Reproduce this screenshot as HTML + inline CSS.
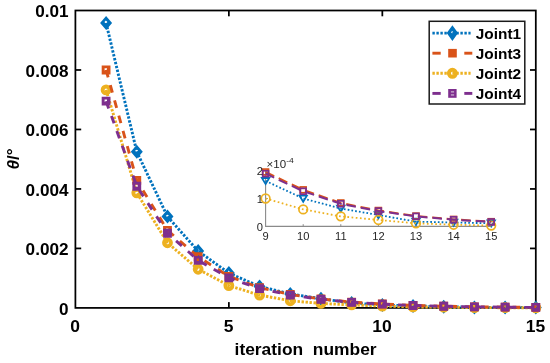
<!DOCTYPE html>
<html><head><meta charset="utf-8"><style>
html,body{margin:0;padding:0;background:#fff;}
body{width:550px;height:363px;overflow:hidden;}
svg{display:block;}
text{font-family:"Liberation Sans",Arial,Helvetica,sans-serif;}
</style></head><body>
<svg width="550" height="363" viewBox="0 0 550 363">
<rect width="550" height="363" fill="#fff"/>
<rect x="75.4" y="10.5" width="460.4" height="297.4" fill="none" stroke="#000" stroke-width="1.75"/>
<line x1="228.87" y1="307.9" x2="228.87" y2="302.1" stroke="#000" stroke-width="1.75"/>
<line x1="228.87" y1="10.5" x2="228.87" y2="16.3" stroke="#000" stroke-width="1.75"/>
<line x1="382.33" y1="307.9" x2="382.33" y2="302.1" stroke="#000" stroke-width="1.75"/>
<line x1="382.33" y1="10.5" x2="382.33" y2="16.3" stroke="#000" stroke-width="1.75"/>
<line x1="75.4" y1="248.42" x2="81.2" y2="248.42" stroke="#000" stroke-width="1.75"/>
<line x1="535.8" y1="248.42" x2="530" y2="248.42" stroke="#000" stroke-width="1.75"/>
<line x1="75.4" y1="188.94" x2="81.2" y2="188.94" stroke="#000" stroke-width="1.75"/>
<line x1="535.8" y1="188.94" x2="530" y2="188.94" stroke="#000" stroke-width="1.75"/>
<line x1="75.4" y1="129.46" x2="81.2" y2="129.46" stroke="#000" stroke-width="1.75"/>
<line x1="535.8" y1="129.46" x2="530" y2="129.46" stroke="#000" stroke-width="1.75"/>
<line x1="75.4" y1="69.98" x2="81.2" y2="69.98" stroke="#000" stroke-width="1.75"/>
<line x1="535.8" y1="69.98" x2="530" y2="69.98" stroke="#000" stroke-width="1.75"/>
<polyline points="106.09,22.99 136.79,151.76 167.48,216.6 198.17,251.1 228.87,273.1 259.56,286.49 290.25,293.92 320.95,298.68 351.64,303.05 382.33,304.93 413.03,306 443.72,306.68 474.41,307.39 505.11,307.48 535.8,307.57" fill="none" stroke="#0072BD" stroke-width="2.9" stroke-dasharray="2.4 1.6"/>
<path d="M106.09,15.99 L112.09,22.99 L106.09,29.99 L100.09,22.99 Z M104.39,22.09 L105.89,23.74 L107.39,22.09 L105.89,20.44 Z" fill="#0072BD" fill-rule="evenodd"/>
<path d="M136.79,144.76 L142.79,151.76 L136.79,158.76 L130.79,151.76 Z M135.09,150.86 L136.59,152.51 L138.09,150.86 L136.59,149.21 Z" fill="#0072BD" fill-rule="evenodd"/>
<path d="M167.48,209.6 L173.48,216.6 L167.48,223.6 L161.48,216.6 Z M165.78,215.7 L167.28,217.35 L168.78,215.7 L167.28,214.05 Z" fill="#0072BD" fill-rule="evenodd"/>
<path d="M198.17,244.1 L204.17,251.1 L198.17,258.1 L192.17,251.1 Z M196.47,250.2 L197.97,251.85 L199.47,250.2 L197.97,248.55 Z" fill="#0072BD" fill-rule="evenodd"/>
<path d="M228.87,266.1 L234.87,273.1 L228.87,280.1 L222.87,273.1 Z M227.17,272.2 L228.67,273.85 L230.17,272.2 L228.67,270.55 Z" fill="#0072BD" fill-rule="evenodd"/>
<path d="M259.56,279.49 L265.56,286.49 L259.56,293.49 L253.56,286.49 Z M257.86,285.59 L259.36,287.24 L260.86,285.59 L259.36,283.94 Z" fill="#0072BD" fill-rule="evenodd"/>
<path d="M290.25,286.92 L296.25,293.92 L290.25,300.92 L284.25,293.92 Z M288.55,293.02 L290.05,294.67 L291.55,293.02 L290.05,291.37 Z" fill="#0072BD" fill-rule="evenodd"/>
<path d="M320.95,291.68 L326.95,298.68 L320.95,305.68 L314.95,298.68 Z M319.25,297.78 L320.75,299.43 L322.25,297.78 L320.75,296.13 Z" fill="#0072BD" fill-rule="evenodd"/>
<path d="M351.64,296.05 L357.64,303.05 L351.64,310.05 L345.64,303.05 Z M349.94,302.15 L351.44,303.8 L352.94,302.15 L351.44,300.5 Z" fill="#0072BD" fill-rule="evenodd"/>
<path d="M382.33,297.93 L388.33,304.93 L382.33,311.93 L376.33,304.93 Z M380.63,304.03 L382.13,305.68 L383.63,304.03 L382.13,302.38 Z" fill="#0072BD" fill-rule="evenodd"/>
<path d="M413.03,299 L419.03,306 L413.03,313 L407.03,306 Z M411.33,305.1 L412.83,306.75 L414.33,305.1 L412.83,303.45 Z" fill="#0072BD" fill-rule="evenodd"/>
<path d="M443.72,299.68 L449.72,306.68 L443.72,313.68 L437.72,306.68 Z M442.02,305.78 L443.52,307.43 L445.02,305.78 L443.52,304.13 Z" fill="#0072BD" fill-rule="evenodd"/>
<path d="M474.41,300.39 L480.41,307.39 L474.41,314.39 L468.41,307.39 Z M472.71,306.49 L474.21,308.14 L475.71,306.49 L474.21,304.84 Z" fill="#0072BD" fill-rule="evenodd"/>
<path d="M505.11,300.48 L511.11,307.48 L505.11,314.48 L499.11,307.48 Z M503.41,306.58 L504.91,308.23 L506.41,306.58 L504.91,304.93 Z" fill="#0072BD" fill-rule="evenodd"/>
<path d="M535.8,300.57 L541.8,307.57 L535.8,314.57 L529.8,307.57 Z M534.1,306.67 L535.6,308.32 L537.1,306.67 L535.6,305.02 Z" fill="#0072BD" fill-rule="evenodd"/>
<polyline points="106.09,89.91 136.79,192.81 167.48,242.77 198.17,269.24 228.87,285.59 259.56,295.11 290.25,300.76 320.95,303.44 351.64,304.93 382.33,306.09 413.03,306.83 443.72,307.22 474.41,307.57 505.11,307.72 535.8,307.81" fill="none" stroke="#EDB120" stroke-width="2.9" stroke-dasharray="2.4 1.6"/>
<circle cx="106.09" cy="89.91" r="3.45" fill="none" stroke="#EDB120" stroke-width="3.9"/>
<circle cx="136.79" cy="192.81" r="3.45" fill="none" stroke="#EDB120" stroke-width="3.9"/>
<circle cx="167.48" cy="242.77" r="3.45" fill="none" stroke="#EDB120" stroke-width="3.9"/>
<circle cx="198.17" cy="269.24" r="3.45" fill="none" stroke="#EDB120" stroke-width="3.9"/>
<circle cx="228.87" cy="285.59" r="3.45" fill="none" stroke="#EDB120" stroke-width="3.9"/>
<circle cx="259.56" cy="295.11" r="3.45" fill="none" stroke="#EDB120" stroke-width="3.9"/>
<circle cx="290.25" cy="300.76" r="3.45" fill="none" stroke="#EDB120" stroke-width="3.9"/>
<circle cx="320.95" cy="303.44" r="3.45" fill="none" stroke="#EDB120" stroke-width="3.9"/>
<circle cx="351.64" cy="304.93" r="3.45" fill="none" stroke="#EDB120" stroke-width="3.9"/>
<circle cx="382.33" cy="306.09" r="3.45" fill="none" stroke="#EDB120" stroke-width="3.9"/>
<circle cx="413.03" cy="306.83" r="3.45" fill="none" stroke="#EDB120" stroke-width="3.9"/>
<circle cx="443.72" cy="307.22" r="3.45" fill="none" stroke="#EDB120" stroke-width="3.9"/>
<circle cx="474.41" cy="307.57" r="3.45" fill="none" stroke="#EDB120" stroke-width="3.9"/>
<circle cx="505.11" cy="307.72" r="3.45" fill="none" stroke="#EDB120" stroke-width="3.9"/>
<circle cx="535.8" cy="307.81" r="3.45" fill="none" stroke="#EDB120" stroke-width="3.9"/>
<polyline points="106.09,69.98 136.79,180.32 167.48,230.28 198.17,256.75 228.87,276.38 259.56,287.68 290.25,294.52 320.95,298.98 351.64,302.1 382.33,304 413.03,305.4 443.72,306.2 474.41,306.8 505.11,307.16 535.8,307.39" fill="none" stroke="#D95319" stroke-width="2.9" stroke-dasharray="7.7 8.1"/>
<path d="M101.69,65.58 h8.8 v8.8 h-8.8 Z M104.59,68.18 v2.4 h2.4 v-2.4 Z" fill="#D95319" fill-rule="evenodd"/>
<path d="M132.39,175.92 h8.8 v8.8 h-8.8 Z M135.29,178.52 v2.4 h2.4 v-2.4 Z" fill="#D95319" fill-rule="evenodd"/>
<path d="M163.08,225.88 h8.8 v8.8 h-8.8 Z M165.98,228.48 v2.4 h2.4 v-2.4 Z" fill="#D95319" fill-rule="evenodd"/>
<path d="M193.77,252.35 h8.8 v8.8 h-8.8 Z M196.67,254.95 v2.4 h2.4 v-2.4 Z" fill="#D95319" fill-rule="evenodd"/>
<path d="M224.47,271.98 h8.8 v8.8 h-8.8 Z M227.37,274.58 v2.4 h2.4 v-2.4 Z" fill="#D95319" fill-rule="evenodd"/>
<path d="M255.16,283.28 h8.8 v8.8 h-8.8 Z M258.06,285.88 v2.4 h2.4 v-2.4 Z" fill="#D95319" fill-rule="evenodd"/>
<path d="M285.85,290.12 h8.8 v8.8 h-8.8 Z M288.75,292.72 v2.4 h2.4 v-2.4 Z" fill="#D95319" fill-rule="evenodd"/>
<path d="M316.55,294.58 h8.8 v8.8 h-8.8 Z M319.45,297.18 v2.4 h2.4 v-2.4 Z" fill="#D95319" fill-rule="evenodd"/>
<path d="M347.24,297.7 h8.8 v8.8 h-8.8 Z M350.14,300.3 v2.4 h2.4 v-2.4 Z" fill="#D95319" fill-rule="evenodd"/>
<path d="M377.93,299.6 h8.8 v8.8 h-8.8 Z M380.83,302.2 v2.4 h2.4 v-2.4 Z" fill="#D95319" fill-rule="evenodd"/>
<path d="M408.63,301 h8.8 v8.8 h-8.8 Z M411.53,303.6 v2.4 h2.4 v-2.4 Z" fill="#D95319" fill-rule="evenodd"/>
<path d="M439.32,301.8 h8.8 v8.8 h-8.8 Z M442.22,304.4 v2.4 h2.4 v-2.4 Z" fill="#D95319" fill-rule="evenodd"/>
<path d="M470.01,302.4 h8.8 v8.8 h-8.8 Z M472.91,305 v2.4 h2.4 v-2.4 Z" fill="#D95319" fill-rule="evenodd"/>
<path d="M500.71,302.76 h8.8 v8.8 h-8.8 Z M503.61,305.36 v2.4 h2.4 v-2.4 Z" fill="#D95319" fill-rule="evenodd"/>
<path d="M531.4,302.99 h8.8 v8.8 h-8.8 Z M534.3,305.59 v2.4 h2.4 v-2.4 Z" fill="#D95319" fill-rule="evenodd"/>
<polyline points="106.09,101.21 136.79,186.26 167.48,233.25 198.17,260.32 228.87,277.86 259.56,288.57 290.25,295.11 320.95,299.28 351.64,302.28 382.33,304.15 413.03,305.49 443.72,306.26 474.41,306.83 505.11,307.19 535.8,307.42" fill="none" stroke="#7E2F8E" stroke-width="2.9" stroke-dasharray="7.7 8.1"/>
<path d="M101.69,96.81 h8.8 v8.8 h-8.8 Z M104.59,99.41 v2.4 h2.4 v-2.4 Z" fill="#7E2F8E" fill-rule="evenodd"/>
<path d="M132.39,181.86 h8.8 v8.8 h-8.8 Z M135.29,184.46 v2.4 h2.4 v-2.4 Z" fill="#7E2F8E" fill-rule="evenodd"/>
<path d="M163.08,228.85 h8.8 v8.8 h-8.8 Z M165.98,231.45 v2.4 h2.4 v-2.4 Z" fill="#7E2F8E" fill-rule="evenodd"/>
<path d="M193.77,255.92 h8.8 v8.8 h-8.8 Z M196.67,258.52 v2.4 h2.4 v-2.4 Z" fill="#7E2F8E" fill-rule="evenodd"/>
<path d="M224.47,273.46 h8.8 v8.8 h-8.8 Z M227.37,276.06 v2.4 h2.4 v-2.4 Z" fill="#7E2F8E" fill-rule="evenodd"/>
<path d="M255.16,284.17 h8.8 v8.8 h-8.8 Z M258.06,286.77 v2.4 h2.4 v-2.4 Z" fill="#7E2F8E" fill-rule="evenodd"/>
<path d="M285.85,290.71 h8.8 v8.8 h-8.8 Z M288.75,293.31 v2.4 h2.4 v-2.4 Z" fill="#7E2F8E" fill-rule="evenodd"/>
<path d="M316.55,294.88 h8.8 v8.8 h-8.8 Z M319.45,297.48 v2.4 h2.4 v-2.4 Z" fill="#7E2F8E" fill-rule="evenodd"/>
<path d="M347.24,297.88 h8.8 v8.8 h-8.8 Z M350.14,300.48 v2.4 h2.4 v-2.4 Z" fill="#7E2F8E" fill-rule="evenodd"/>
<path d="M377.93,299.75 h8.8 v8.8 h-8.8 Z M380.83,302.35 v2.4 h2.4 v-2.4 Z" fill="#7E2F8E" fill-rule="evenodd"/>
<path d="M408.63,301.09 h8.8 v8.8 h-8.8 Z M411.53,303.69 v2.4 h2.4 v-2.4 Z" fill="#7E2F8E" fill-rule="evenodd"/>
<path d="M439.32,301.86 h8.8 v8.8 h-8.8 Z M442.22,304.46 v2.4 h2.4 v-2.4 Z" fill="#7E2F8E" fill-rule="evenodd"/>
<path d="M470.01,302.43 h8.8 v8.8 h-8.8 Z M472.91,305.03 v2.4 h2.4 v-2.4 Z" fill="#7E2F8E" fill-rule="evenodd"/>
<path d="M500.71,302.79 h8.8 v8.8 h-8.8 Z M503.61,305.39 v2.4 h2.4 v-2.4 Z" fill="#7E2F8E" fill-rule="evenodd"/>
<path d="M531.4,303.02 h8.8 v8.8 h-8.8 Z M534.3,305.62 v2.4 h2.4 v-2.4 Z" fill="#7E2F8E" fill-rule="evenodd"/>
<g>
<rect x="265.6" y="168.6" width="229.6" height="59.8" fill="#fff"/>
<polyline points="265.6,170.6 265.6,226.4 491.2,226.4" fill="none" stroke="#8a8a8a" stroke-width="1.1"/>
<line x1="303.2" y1="226.4" x2="303.2" y2="224.2" stroke="#8a8a8a" stroke-width="1"/>
<line x1="340.8" y1="226.4" x2="340.8" y2="224.2" stroke="#8a8a8a" stroke-width="1"/>
<line x1="378.4" y1="226.4" x2="378.4" y2="224.2" stroke="#8a8a8a" stroke-width="1"/>
<line x1="416" y1="226.4" x2="416" y2="224.2" stroke="#8a8a8a" stroke-width="1"/>
<line x1="453.6" y1="226.4" x2="453.6" y2="224.2" stroke="#8a8a8a" stroke-width="1"/>
<line x1="491.2" y1="226.4" x2="491.2" y2="224.2" stroke="#8a8a8a" stroke-width="1"/>
<line x1="265.6" y1="198.5" x2="267.8" y2="198.5" stroke="#8a8a8a" stroke-width="1"/>
<line x1="265.6" y1="170.6" x2="267.8" y2="170.6" stroke="#8a8a8a" stroke-width="1"/>
<polyline points="265.6,180.92 303.2,198.5 340.8,208.54 378.4,214.96 416,221.66 453.6,222.49 491.2,223.33" fill="none" stroke="#0072BD" stroke-width="1.8" stroke-dasharray="1.7 2.1"/>
<polygon points="261.9,178.02 269.3,178.02 265.6,184.12" fill="none" stroke="#0072BD" stroke-width="1.8"/>
<polygon points="299.5,195.6 306.9,195.6 303.2,201.7" fill="none" stroke="#0072BD" stroke-width="1.8"/>
<polygon points="337.1,205.64 344.5,205.64 340.8,211.74" fill="none" stroke="#0072BD" stroke-width="1.8"/>
<polygon points="374.7,212.06 382.1,212.06 378.4,218.16" fill="none" stroke="#0072BD" stroke-width="1.8"/>
<polygon points="412.3,218.76 419.7,218.76 416,224.86" fill="none" stroke="#0072BD" stroke-width="1.8"/>
<polygon points="449.9,219.59 457.3,219.59 453.6,225.69" fill="none" stroke="#0072BD" stroke-width="1.8"/>
<polygon points="487.5,220.43 494.9,220.43 491.2,226.53" fill="none" stroke="#0072BD" stroke-width="1.8"/>
<polyline points="265.6,198.5 303.2,209.38 340.8,216.36 378.4,219.98 416,223.33 453.6,224.73 491.2,225.56" fill="none" stroke="#EDB120" stroke-width="1.8" stroke-dasharray="1.7 2.5"/>
<circle cx="265.6" cy="198.5" r="4.3" fill="none" stroke="#EDB120" stroke-width="1.7"/>
<circle cx="303.2" cy="209.38" r="4.3" fill="none" stroke="#EDB120" stroke-width="1.7"/>
<circle cx="340.8" cy="216.36" r="4.3" fill="none" stroke="#EDB120" stroke-width="1.7"/>
<circle cx="378.4" cy="219.98" r="4.3" fill="none" stroke="#EDB120" stroke-width="1.7"/>
<circle cx="416" cy="223.33" r="4.3" fill="none" stroke="#EDB120" stroke-width="1.7"/>
<circle cx="453.6" cy="224.73" r="4.3" fill="none" stroke="#EDB120" stroke-width="1.7"/>
<circle cx="491.2" cy="225.56" r="4.3" fill="none" stroke="#EDB120" stroke-width="1.7"/>
<polyline points="265.6,172 303.2,189.85 340.8,202.96 378.4,210.5 416,216.08 453.6,219.43 491.2,221.66" fill="none" stroke="#D95319" stroke-width="2.0" stroke-dasharray="9.5 5"/>
<rect x="262.7" y="169.09" width="5.8" height="5.8" fill="none" stroke="#D95319" stroke-width="1.7"/>
<rect x="300.3" y="186.95" width="5.8" height="5.8" fill="none" stroke="#D95319" stroke-width="1.7"/>
<rect x="337.9" y="200.06" width="5.8" height="5.8" fill="none" stroke="#D95319" stroke-width="1.7"/>
<rect x="375.5" y="207.6" width="5.8" height="5.8" fill="none" stroke="#D95319" stroke-width="1.7"/>
<rect x="413.1" y="213.18" width="5.8" height="5.8" fill="none" stroke="#D95319" stroke-width="1.7"/>
<rect x="450.7" y="216.53" width="5.8" height="5.8" fill="none" stroke="#D95319" stroke-width="1.7"/>
<rect x="488.3" y="218.76" width="5.8" height="5.8" fill="none" stroke="#D95319" stroke-width="1.7"/>
<polyline points="265.6,173.67 303.2,191.25 340.8,203.8 378.4,211.06 416,216.36 453.6,219.7 491.2,221.94" fill="none" stroke="#7E2F8E" stroke-width="2.0" stroke-dasharray="9.5 5"/>
<rect x="262.7" y="170.77" width="5.8" height="5.8" fill="none" stroke="#7E2F8E" stroke-width="1.7"/>
<rect x="300.3" y="188.35" width="5.8" height="5.8" fill="none" stroke="#7E2F8E" stroke-width="1.7"/>
<rect x="337.9" y="200.9" width="5.8" height="5.8" fill="none" stroke="#7E2F8E" stroke-width="1.7"/>
<rect x="375.5" y="208.16" width="5.8" height="5.8" fill="none" stroke="#7E2F8E" stroke-width="1.7"/>
<rect x="413.1" y="213.46" width="5.8" height="5.8" fill="none" stroke="#7E2F8E" stroke-width="1.7"/>
<rect x="450.7" y="216.8" width="5.8" height="5.8" fill="none" stroke="#7E2F8E" stroke-width="1.7"/>
<rect x="488.3" y="219.04" width="5.8" height="5.8" fill="none" stroke="#7E2F8E" stroke-width="1.7"/>
<text transform="translate(265.6,240.1) scale(1.05,1)" font-size="10.6" fill="#262626" text-anchor="middle">9</text>
<text transform="translate(303.2,240.1) scale(1.05,1)" font-size="10.6" fill="#262626" text-anchor="middle">10</text>
<text transform="translate(340.8,240.1) scale(1.05,1)" font-size="10.6" fill="#262626" text-anchor="middle">11</text>
<text transform="translate(378.4,240.1) scale(1.05,1)" font-size="10.6" fill="#262626" text-anchor="middle">12</text>
<text transform="translate(416,240.1) scale(1.05,1)" font-size="10.6" fill="#262626" text-anchor="middle">13</text>
<text transform="translate(453.6,240.1) scale(1.05,1)" font-size="10.6" fill="#262626" text-anchor="middle">14</text>
<text transform="translate(491.2,240.1) scale(1.05,1)" font-size="10.6" fill="#262626" text-anchor="middle">15</text>
<text transform="translate(262.9,230.9) scale(1.05,1)" font-size="10.6" fill="#262626" text-anchor="end">0</text>
<text transform="translate(262.9,203) scale(1.05,1)" font-size="10.6" fill="#262626" text-anchor="end">1</text>
<text transform="translate(262.9,175.1) scale(1.05,1)" font-size="10.6" fill="#262626" text-anchor="end">2</text>
<text transform="translate(266.6,167.8) scale(1.07,1)" font-size="10.8" fill="#262626">×10<tspan font-size="8" dy="-4.4">-4</tspan></text>
</g>
<text transform="translate(75.1,331.9) scale(1.12,1)" font-size="15.6" font-weight="bold" fill="#000" text-anchor="middle">0</text>
<text transform="translate(228.57,331.9) scale(1.12,1)" font-size="15.6" font-weight="bold" fill="#000" text-anchor="middle">5</text>
<text transform="translate(382.03,331.9) scale(1.12,1)" font-size="15.6" font-weight="bold" fill="#000" text-anchor="middle">10</text>
<text transform="translate(535.5,331.9) scale(1.12,1)" font-size="15.6" font-weight="bold" fill="#000" text-anchor="middle">15</text>
<text transform="translate(68.5,314.5) scale(1.1,1)" font-size="15.6" font-weight="bold" fill="#000" text-anchor="end">0</text>
<text transform="translate(68.5,255.02) scale(1.1,1)" font-size="15.6" font-weight="bold" fill="#000" text-anchor="end">0.002</text>
<text transform="translate(68.5,195.54) scale(1.1,1)" font-size="15.6" font-weight="bold" fill="#000" text-anchor="end">0.004</text>
<text transform="translate(68.5,136.06) scale(1.1,1)" font-size="15.6" font-weight="bold" fill="#000" text-anchor="end">0.006</text>
<text transform="translate(68.5,76.58) scale(1.1,1)" font-size="15.6" font-weight="bold" fill="#000" text-anchor="end">0.008</text>
<text transform="translate(68.5,17.1) scale(1.1,1)" font-size="15.6" font-weight="bold" fill="#000" text-anchor="end">0.01</text>
<text x="305.6" y="354.6" font-size="17.4" font-weight="bold" fill="#000" text-anchor="middle" xml:space="preserve">iteration  number</text>
<text transform="translate(18.5,158.9) rotate(-90)" font-size="17.2" font-weight="bold" fill="#000" text-anchor="middle"><tspan font-style="italic">θ</tspan>/°</text>
<rect x="429.2" y="21.3" width="95.6" height="82.7" fill="#fff" stroke="#1a1a1a" stroke-width="1.5"/>
<line x1="432.4" y1="33.1" x2="470.6" y2="33.1" stroke="#0072BD" stroke-width="2.9" stroke-dasharray="2.4 1.6"/>
<path d="M452.4,25.3 L458.1,33.1 L452.4,40.9 L446.7,33.1 Z M451,32.2 L452.2,33.52 L453.4,32.2 L452.2,30.88 Z" fill="#0072BD" fill-rule="evenodd"/>
<line x1="432.4" y1="53.2" x2="440.7" y2="53.2" stroke="#D95319" stroke-width="2.9"/>
<line x1="464.3" y1="53.2" x2="472.3" y2="53.2" stroke="#D95319" stroke-width="2.9"/>
<rect x="448.2" y="48.9" width="8.6" height="8.6" fill="#D95319"/>
<line x1="432.4" y1="73.3" x2="470.6" y2="73.3" stroke="#EDB120" stroke-width="2.9" stroke-dasharray="2.4 1.6"/>
<circle cx="452.4" cy="73.3" r="3.5" fill="none" stroke="#EDB120" stroke-width="4"/>
<line x1="432.4" y1="93.4" x2="440.7" y2="93.4" stroke="#7E2F8E" stroke-width="2.9"/>
<line x1="464.3" y1="93.4" x2="472.3" y2="93.4" stroke="#7E2F8E" stroke-width="2.9"/>
<rect x="448.2" y="89" width="8.4" height="8.8" fill="#7E2F8E"/>
<rect x="450.9" y="91.2" width="3.2" height="1.3" fill="#c9b0cf"/>
<rect x="450.9" y="94.3" width="3.2" height="1.3" fill="#c9b0cf"/>
<text x="475.8" y="39.1" font-size="15.4" font-weight="bold" fill="#000">Joint1</text>
<text x="475.8" y="59.2" font-size="15.4" font-weight="bold" fill="#000">Joint3</text>
<text x="475.8" y="79.3" font-size="15.4" font-weight="bold" fill="#000">Joint2</text>
<text x="475.8" y="99.4" font-size="15.4" font-weight="bold" fill="#000">Joint4</text>
</svg>
</body></html>
